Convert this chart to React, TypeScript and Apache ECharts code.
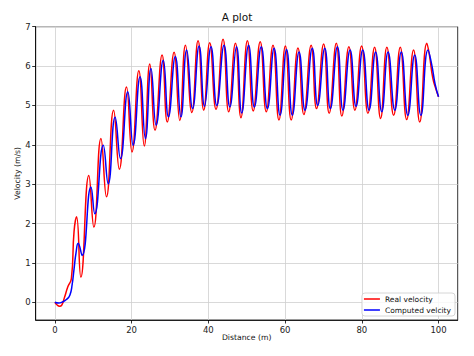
import React, { useEffect, useRef } from 'react';
import * as echarts from 'echarts';

const realX = [0, 0.6, 1.2, 1.8, 2.5, 3.4, 4.3, 5.0, 5.65, 6.77, 8.85, 10.16, 12.0, 13.45, 15.3, 16.8, 18.67, 20.1, 21.88, 23.3, 24.74, 26.1, 27.94, 29.3, 31.07, 32.55, 34.04, 35.7, 37.32, 38.8, 40.36, 42.0, 43.83, 45.3, 47.06, 48.5, 50.18, 51.7, 53.52, 55.1, 56.85, 58.4, 60.08, 61.6, 63.36, 64.9, 66.8, 68.2, 70.05, 71.5, 73.36, 74.8, 76.64, 78.2, 79.95, 81.6, 83.33, 84.9, 86.54, 88.3, 90.03, 91.7, 93.49, 95.1, 96.95, 97.6, 98.5, 99.3, 100];
const realY = [0, -0.07, -0.1, -0.07, 0.12, 0.4, 0.6, 1.8, 2.17, 0.64, 3.22, 1.91, 4.16, 2.68, 4.88, 3.38, 5.47, 3.82, 5.88, 3.97, 6.05, 4.37, 6.28, 4.58, 6.35, 4.62, 6.53, 4.82, 6.64, 4.88, 6.59, 4.9, 6.68, 4.84, 6.58, 4.69, 6.64, 4.86, 6.62, 4.84, 6.53, 4.63, 6.51, 4.63, 6.46, 4.77, 6.53, 4.92, 6.56, 4.8, 6.58, 4.73, 6.49, 4.88, 6.51, 4.8, 6.48, 4.67, 6.48, 4.75, 6.48, 4.64, 6.41, 4.58, 6.58, 6.3, 5.7, 5.42, 5.22];

const compX = [0, 1, 2, 3, 3.9, 4.5, 5.0, 5.5, 6.07, 7.1, 9.4, 10.4, 12.6, 13.9, 15.7, 17.1, 19.0, 20.4, 22.2, 23.6, 25.05, 26.4, 28.25, 29.6, 31.4, 32.85, 34.35, 35.9, 37.6, 39.0, 40.7, 42.2, 44.1, 45.6, 47.35, 48.7, 50.5, 52.0, 53.8, 55.4, 57.15, 58.7, 60.4, 61.9, 63.65, 65.2, 67.1, 68.5, 70.35, 71.8, 73.65, 75.1, 76.95, 78.5, 80.25, 81.9, 83.6, 85.2, 86.85, 88.6, 90.3, 92.0, 93.8, 95.4, 97.25, 98.2, 99.1, 100];
const compY = [0, -0.02, 0.01, 0.07, 0.18, 0.45, 0.85, 1.25, 1.5, 1.19, 2.93, 2.25, 3.99, 3.01, 4.7, 3.65, 5.35, 3.99, 5.73, 4.16, 5.94, 4.5, 6.15, 4.71, 6.24, 4.71, 6.41, 4.92, 6.51, 4.98, 6.49, 5.0, 6.53, 4.96, 6.49, 4.81, 6.53, 4.96, 6.49, 4.92, 6.45, 4.75, 6.42, 4.75, 6.36, 4.88, 6.45, 5.0, 6.45, 4.92, 6.49, 4.88, 6.41, 4.98, 6.41, 4.88, 6.36, 4.84, 6.36, 4.88, 6.36, 4.75, 6.28, 4.75, 6.41, 6.05, 5.55, 5.22];

const xTicks = [0, 20, 40, 60, 80, 100];
const yTicks = [0, 1, 2, 3, 4, 5, 6, 7];

const FONT = 'DejaVu Sans';

export default function App() {
  const ref = useRef<HTMLDivElement>(null);
  useEffect(() => {
    document.body.style.margin = '0';
    const chart = echarts.init(ref.current!, null, { renderer: 'svg' });
    const realData = realX.map((x, i) => [x, realY[i]]);
    const compData = compX.map((x, i) => [x, compY[i]]);
    const axisCommon = {
      type: 'value' as const,
      axisLine: { show: true, onZero: false, lineStyle: { color: '#000', width: 0.8 } },
      splitLine: { show: true, lineStyle: { color: '#cfcfcf', width: 0.8 } },
      nameLocation: 'middle' as const,
      nameMoveOverlap: false,
      nameTextStyle: { fontFamily: FONT, fontSize: 7.7, color: '#111' },
    };
    chart.setOption({
      animation: false,
      backgroundColor: '#fff',
      title: {
        text: 'A plot',
        left: 'center',
        top: 6,
        textStyle: { fontFamily: FONT, fontSize: 10.5, fontWeight: 'normal', color: '#111' },
      },
      grid: {
        left: 35.7,
        right: 16.3,
        top: 26.7,
        bottom: 36,
        containLabel: false,
        outerBoundsMode: 'none',
        show: true,
        borderColor: '#000',
        borderWidth: 0.8,
        backgroundColor: 'transparent',
      },
      legend: {
        orient: 'vertical',
        right: 19,
        bottom: 40,
        icon: 'rect',
        itemWidth: 16,
        itemHeight: 1.5,
        itemGap: 3,
        padding: [2, 4, 2, 2],
        borderColor: '#ccc',
        borderWidth: 0.8,
        borderRadius: 3,
        backgroundColor: 'rgba(255,255,255,0.8)',
        textStyle: { fontFamily: FONT, fontSize: 7.5, color: '#111' },
        data: ['Real velocity', 'Computed velcity'],
      },
      xAxis: {
        ...axisCommon,
        min: -5,
        max: 105,
        name: 'Distance (m)',
        nameGap: 13.5,
        axisTick: { show: true, length: 3.5, lineStyle: { color: '#000', width: 0.8 }, customValues: xTicks },
        axisLabel: { customValues: xTicks, margin: 5, fontFamily: FONT, fontSize: 8.5, color: '#222' },
      },
      yAxis: {
        ...axisCommon,
        min: -0.45,
        max: 7,
        name: 'Velocity (m/s)',
        nameGap: 14,
        axisTick: { show: true, length: 3.5, lineStyle: { color: '#000', width: 0.8 }, customValues: yTicks },
        axisLabel: { customValues: yTicks, margin: 5, fontFamily: FONT, fontSize: 8.5, color: '#222' },
      },
      series: [
        {
          name: 'Real velocity',
          type: 'line',
          data: realData,
          smooth: 0.5,
          symbol: 'none',
          lineStyle: { color: '#ff0000', width: 1.5 },
          itemStyle: { color: '#ff0000' },
        },
        {
          name: 'Computed velcity',
          type: 'line',
          data: compData,
          smooth: 0.5,
          symbol: 'none',
          lineStyle: { color: '#0000ff', width: 1.5 },
          itemStyle: { color: '#0000ff' },
        },
      ],
    });
    return () => chart.dispose();
  }, []);
  return <div ref={ref} style={{ width: 474, height: 356 }} />;
}
